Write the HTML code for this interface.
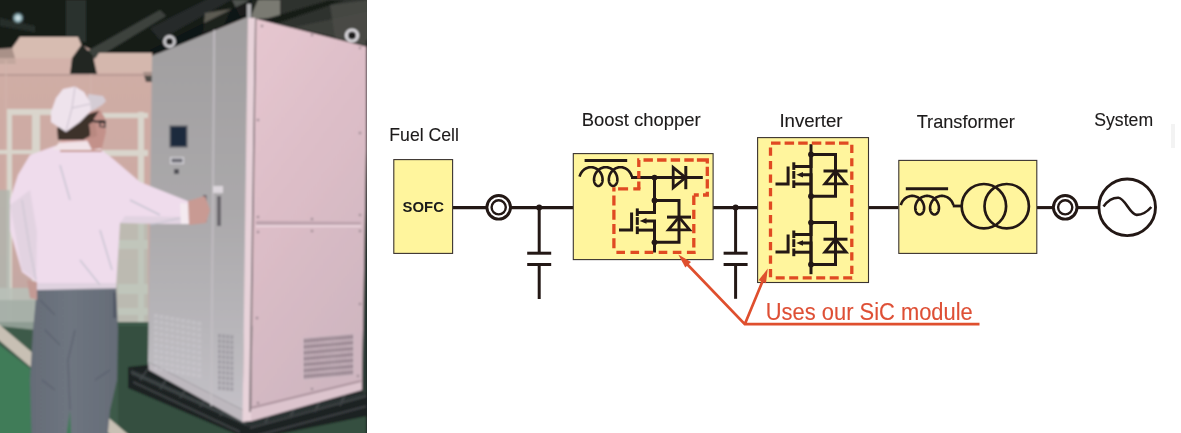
<!DOCTYPE html>
<html><head><meta charset="utf-8"><style>
html,body{margin:0;padding:0;background:#fff;width:1181px;height:433px;overflow:hidden}
svg{position:absolute;left:0;top:0;display:block;will-change:transform}
text{font-family:"Liberation Sans",sans-serif}
</style></head><body>
<svg width="1181" height="433" viewBox="0 0 1181 433">
<defs>
<clipPath id="pc"><rect x="0" y="0" width="367" height="433"/></clipPath>
<filter id="bl" x="-5%" y="-5%" width="110%" height="110%"><feGaussianBlur stdDeviation="0.8"/></filter>
<filter id="bl3" x="-20%" y="-20%" width="140%" height="140%"><feGaussianBlur stdDeviation="2.5"/></filter>
<linearGradient id="wall" x1="0" y1="0" x2="0" y2="1">
<stop offset="0" stop-color="#d2afa6"/><stop offset="0.55" stop-color="#cba9a3"/><stop offset="1" stop-color="#aca7a3"/>
</linearGradient>
<linearGradient id="lface" x1="0" y1="0" x2="0" y2="1">
<stop offset="0" stop-color="#a09e9f"/><stop offset="0.5" stop-color="#aba9ab"/><stop offset="0.8" stop-color="#b8b6ba"/><stop offset="1" stop-color="#c3c0c6"/>
</linearGradient>
<linearGradient id="rface" x1="0" y1="0" x2="0.4" y2="1">
<stop offset="0" stop-color="#e6c7d0"/><stop offset="0.5" stop-color="#dcbdc7"/><stop offset="1" stop-color="#cfb6c0"/>
</linearGradient>
<linearGradient id="pants" x1="0" y1="0" x2="1" y2="0">
<stop offset="0" stop-color="#656c77"/><stop offset="0.45" stop-color="#6e7580"/><stop offset="1" stop-color="#656c77"/>
</linearGradient>
<radialGradient id="lamp"><stop offset="0" stop-color="#e8f4f6"/><stop offset="0.5" stop-color="#8fb0b8"/><stop offset="1" stop-color="#1a1f1d" stop-opacity="0"/></radialGradient>
</defs>
<g clip-path="url(#pc)">
<g filter="url(#bl)">
<rect x="-20" y="-20" width="407" height="473" fill="url(#wall)"/>
<!-- ceiling -->
<path fill="#161b19" d="M-20,-20 H387 V52 L256,19 L248,17 L152,56 L97,53 L80,44 L78,37 L20,37 L12,50 L-20,52 Z"/>
<path fill="#2c3233" d="M150,28 L215,-5 L240,-5 L160,40 Z" opacity="0.7"/>
<path fill="#4a4c47" d="M262,-20 H387 V50 L330,36 L262,20 Z" opacity="0.75"/>
<path fill="#2a2e2b" d="M262,0 L367,-10 V12 L280,30 Z" opacity="0.8"/>
<path fill="#5d5c53" d="M205,13 L231,9 L224,25 L203,33 Z"/>
<path fill="#7a7a72" d="M252,0 H280 V17 L256,19 L252,17 Z"/>
<path fill="#141a15" d="M262,20 L330,0 H345 L275,24 Z" opacity="0.85"/>
<path fill="#4b4d48" d="M330,5 L367,0 V46 L335,38 Z" opacity="0.8"/>
<path fill="#6a6a66" d="M232,0 H250 V14 L240,16 Z" opacity="0.7"/>
<path fill="#0e1210" d="M150,50 L250,0 L258,0 L252,14 L160,54 Z" opacity="0.8"/>
<path fill="#2b302d" d="M66,0 H86 V42 H66 Z"/>
<path fill="#3c423c" d="M75,58 L160,10 L166,16 L84,66 Z"/>
<path fill="#303630" d="M0,18 L35,26 L35,32 L0,26 Z" opacity="0.7"/>
<circle cx="18" cy="18" r="7" fill="url(#lamp)"/>
<!-- slabs -->
<path fill="#d7bcb1" d="M20,37 H78 L81,44 V58 H15 L12,48 Z"/>
<path fill="#a99188" d="M-20,50 L12,48 L15,58 L16,64 H-20 Z"/>
<path fill="#d3b8ad" d="M99,53 H152 V72 H96 L93,62 Z"/>
<path fill="#2f332e" d="M143,72 H152 V82 H146 Z" opacity="0.8"/>
<rect x="-20" y="58" width="172" height="16" fill="#d6b6ad" opacity="0.6"/>
<rect x="-20" y="74" width="172" height="1.6" fill="#b39790"/>
<path fill="#232823" d="M72,58 L82,44 L93,56 L97,74 H70 Z"/>
<rect x="5" y="60" width="2" height="130" fill="#d2b4ab" opacity="0.6"/>
<rect x="90" y="74" width="2" height="40" fill="#d2b4ab" opacity="0.5"/>
<!-- shelves -->
<g fill="#dcddd3" opacity="0.85">
<rect x="7" y="109" width="45" height="6"/>
<rect x="7" y="112" width="5" height="215"/>
<rect x="32" y="112" width="8" height="220"/>
<rect x="-20" y="150" width="52" height="4"/>
<rect x="98" y="113" width="50" height="5"/>
<rect x="138" y="112" width="6" height="210"/>
<rect x="98" y="150" width="50" height="6"/>
<rect x="118" y="240" width="30" height="9"/>
<rect x="118" y="284" width="30" height="10"/>
<rect x="118" y="308" width="30" height="7"/>
</g>
<path fill="#adb6ad" d="M-20,190 H10 V325 H-20 Z" opacity="0.75"/>
<path fill="#b8c0b6" d="M116,190 H148 V325 H116 Z" opacity="0.75"/>
<path fill="#b9c1b8" d="M-20,288 H36 V325 H-20 Z" opacity="0.85"/>
<!-- floor -->
<path fill="#3e5a4a" d="M-20,322 H150 V453 H-20 Z"/>
<path fill="#34503f" d="M118,326 H387 V453 H118 Z"/>
<path fill="#a3ada5" d="M-20,300 L36,300 L36,330 L-20,324 Z" opacity="0.8"/>
<!-- green stripe + white line -->
<path fill="#3f7b58" d="M-20,330 L140,453 H-20 Z"/>
<path fill="#c8c0b4" d="M-20,308 L150,453 H132 L-20,324 Z"/>
<!-- pallet -->
<path fill="#1c2021" d="M128,367 L155,364 L387,378 V412 L250,440 L128,388 Z"/>
<path fill="#3a3f41" d="M131,369 L248,421 L367,391 V396 L248,427 L131,375 Z" opacity="0.55"/>
<g stroke="#4a5052" stroke-width="2" opacity="0.7" fill="none">
<path d="M140,380 L150,366 M160,389 L170,374 M180,398 L190,383 M200,407 L210,392 M220,416 L230,401 M265,424 L270,412 M290,418 L295,406 M315,412 L320,400 M340,406 L345,394"/>
<path d="M131,372 L246,424 M133,382 L240,432 M250,428 L367,396 M255,436 L367,406"/>
</g>
<!-- cabinet left gray face -->
<path fill="url(#lface)" d="M152,56 L248,17 L243,410 L148,362 Z"/>
<path fill="#bdb8be" d="M148,362 L243,410 L243,422 L149,370 Z"/>
<path fill="#c4c0c5" d="M213.5,30 L215,30 L212,406 L210.5,406 Z"/>
<!-- corner strip -->
<path fill="#e8d3da" d="M248,17 L255,18 L251,421 L242.5,422 Z"/>
<path fill="#86797f" d="M255,18 L256.8,19 L251,412 L249,412 Z"/>
<!-- right face -->
<path fill="url(#rface)" d="M256.5,19 L367,47 L366,150 L362,390 L251,421 Z"/>
<path fill="#2f3d37" d="M366,46 L387,46 V400 L362,392 L362,390 L366,150 Z"/>
<rect x="366" y="40" width="20" height="400" fill="#1f2422"/>
<path fill="#bda3ad" d="M256,221 L361,222 V225 H256 Z"/>
<path fill="#ecd6de" d="M256,225 L361,225 V227 H256 Z"/>
<path fill="#dcc4cd" d="M251,408 L361,381 V390 L251,421 Z"/>
<path fill="#a8909a" d="M251,407 L361,380 V382 L251,409 Z"/>
<!-- screws -->
<g fill="#9c8a92">
<circle cx="262" cy="26" r="1.3"/><circle cx="312" cy="35" r="1.3"/><circle cx="360" cy="48" r="1.3"/>
<circle cx="258" cy="120" r="1.3"/><circle cx="360" cy="133" r="1.3"/>
<circle cx="258" cy="217" r="1.3"/><circle cx="312" cy="219" r="1.3"/><circle cx="360" cy="215" r="1.3"/>
<circle cx="258" cy="232" r="1.3"/><circle cx="312" cy="231" r="1.3"/><circle cx="360" cy="231" r="1.3"/>
<circle cx="257" cy="318" r="1.3"/><circle cx="360" cy="304" r="1.3"/><circle cx="312" cy="389" r="1.3"/>
<circle cx="258" cy="403" r="1.3"/><circle cx="358" cy="376" r="1.3"/>
</g>
<!-- eye bolts -->
<circle cx="169.5" cy="41.5" r="5" fill="#1a1d1b" stroke="#cfcdd2" stroke-width="2.8"/>
<circle cx="352" cy="35.5" r="5.6" fill="#1a1d1b" stroke="#dedbe0" stroke-width="3"/>
<rect x="247" y="4" width="4" height="14" fill="#b2b1b4"/>
<!-- display, buttons, handles -->
<rect x="169" y="125" width="19" height="23" fill="#7c7b80"/>
<rect x="170.5" y="126.5" width="16" height="20" fill="#1f2a3d"/>
<rect x="170" y="157" width="14" height="7" fill="#d2d0d6"/>
<rect x="171.5" y="158.5" width="11" height="4" fill="#6c6b72"/>
<rect x="174" y="169" width="5" height="5" fill="#505056"/>
<rect x="203" y="195" width="3.5" height="27" fill="#58575e"/>
<rect x="213" y="186" width="10" height="7" fill="#dcd6dc"/>
<rect x="217" y="196" width="4" height="30" fill="#67656c"/>
<!-- vents -->
<g fill="#d6d3da" opacity="0.35"><rect x="154.0" y="314.0" width="4" height="3.6"/><rect x="159.4" y="315.0" width="4" height="3.6"/><rect x="164.8" y="315.9" width="4" height="3.6"/><rect x="170.2" y="316.9" width="4" height="3.6"/><rect x="175.6" y="317.9" width="4" height="3.6"/><rect x="181.0" y="318.9" width="4" height="3.6"/><rect x="186.4" y="319.8" width="4" height="3.6"/><rect x="191.8" y="320.8" width="4" height="3.6"/><rect x="197.2" y="321.8" width="4" height="3.6"/><rect x="154.0" y="319.8" width="4" height="3.6"/><rect x="159.4" y="320.8" width="4" height="3.6"/><rect x="164.8" y="321.7" width="4" height="3.6"/><rect x="170.2" y="322.7" width="4" height="3.6"/><rect x="175.6" y="323.7" width="4" height="3.6"/><rect x="181.0" y="324.7" width="4" height="3.6"/><rect x="186.4" y="325.6" width="4" height="3.6"/><rect x="191.8" y="326.6" width="4" height="3.6"/><rect x="197.2" y="327.6" width="4" height="3.6"/><rect x="154.0" y="325.6" width="4" height="3.6"/><rect x="159.4" y="326.6" width="4" height="3.6"/><rect x="164.8" y="327.5" width="4" height="3.6"/><rect x="170.2" y="328.5" width="4" height="3.6"/><rect x="175.6" y="329.5" width="4" height="3.6"/><rect x="181.0" y="330.5" width="4" height="3.6"/><rect x="186.4" y="331.4" width="4" height="3.6"/><rect x="191.8" y="332.4" width="4" height="3.6"/><rect x="197.2" y="333.4" width="4" height="3.6"/><rect x="154.0" y="331.4" width="4" height="3.6"/><rect x="159.4" y="332.4" width="4" height="3.6"/><rect x="164.8" y="333.3" width="4" height="3.6"/><rect x="170.2" y="334.3" width="4" height="3.6"/><rect x="175.6" y="335.3" width="4" height="3.6"/><rect x="181.0" y="336.3" width="4" height="3.6"/><rect x="186.4" y="337.2" width="4" height="3.6"/><rect x="191.8" y="338.2" width="4" height="3.6"/><rect x="197.2" y="339.2" width="4" height="3.6"/><rect x="154.0" y="337.2" width="4" height="3.6"/><rect x="159.4" y="338.2" width="4" height="3.6"/><rect x="164.8" y="339.1" width="4" height="3.6"/><rect x="170.2" y="340.1" width="4" height="3.6"/><rect x="175.6" y="341.1" width="4" height="3.6"/><rect x="181.0" y="342.1" width="4" height="3.6"/><rect x="186.4" y="343.0" width="4" height="3.6"/><rect x="191.8" y="344.0" width="4" height="3.6"/><rect x="197.2" y="345.0" width="4" height="3.6"/><rect x="154.0" y="343.0" width="4" height="3.6"/><rect x="159.4" y="344.0" width="4" height="3.6"/><rect x="164.8" y="344.9" width="4" height="3.6"/><rect x="170.2" y="345.9" width="4" height="3.6"/><rect x="175.6" y="346.9" width="4" height="3.6"/><rect x="181.0" y="347.9" width="4" height="3.6"/><rect x="186.4" y="348.8" width="4" height="3.6"/><rect x="191.8" y="349.8" width="4" height="3.6"/><rect x="197.2" y="350.8" width="4" height="3.6"/><rect x="154.0" y="348.8" width="4" height="3.6"/><rect x="159.4" y="349.8" width="4" height="3.6"/><rect x="164.8" y="350.7" width="4" height="3.6"/><rect x="170.2" y="351.7" width="4" height="3.6"/><rect x="175.6" y="352.7" width="4" height="3.6"/><rect x="181.0" y="353.7" width="4" height="3.6"/><rect x="186.4" y="354.6" width="4" height="3.6"/><rect x="191.8" y="355.6" width="4" height="3.6"/><rect x="197.2" y="356.6" width="4" height="3.6"/><rect x="154.0" y="354.6" width="4" height="3.6"/><rect x="159.4" y="355.6" width="4" height="3.6"/><rect x="164.8" y="356.5" width="4" height="3.6"/><rect x="170.2" y="357.5" width="4" height="3.6"/><rect x="175.6" y="358.5" width="4" height="3.6"/><rect x="181.0" y="359.5" width="4" height="3.6"/><rect x="186.4" y="360.4" width="4" height="3.6"/><rect x="191.8" y="361.4" width="4" height="3.6"/><rect x="197.2" y="362.4" width="4" height="3.6"/><rect x="154.0" y="360.4" width="4" height="3.6"/><rect x="159.4" y="361.4" width="4" height="3.6"/><rect x="164.8" y="362.3" width="4" height="3.6"/><rect x="170.2" y="363.3" width="4" height="3.6"/><rect x="175.6" y="364.3" width="4" height="3.6"/><rect x="181.0" y="365.3" width="4" height="3.6"/><rect x="186.4" y="366.2" width="4" height="3.6"/><rect x="191.8" y="367.2" width="4" height="3.6"/><rect x="197.2" y="368.2" width="4" height="3.6"/><rect x="154.0" y="366.2" width="4" height="3.6"/><rect x="159.4" y="367.2" width="4" height="3.6"/><rect x="164.8" y="368.1" width="4" height="3.6"/><rect x="170.2" y="369.1" width="4" height="3.6"/><rect x="175.6" y="370.1" width="4" height="3.6"/><rect x="181.0" y="371.1" width="4" height="3.6"/><rect x="186.4" y="372.0" width="4" height="3.6"/><rect x="191.8" y="373.0" width="4" height="3.6"/><rect x="197.2" y="374.0" width="4" height="3.6"/></g>
<g fill="#8f8c94" opacity="0.6"><rect x="218.0" y="334.0" width="3" height="3.8"/><rect x="222.1" y="334.4" width="3" height="3.8"/><rect x="226.2" y="334.8" width="3" height="3.8"/><rect x="230.3" y="335.2" width="3" height="3.8"/><rect x="218.0" y="339.2" width="3" height="3.8"/><rect x="222.1" y="339.6" width="3" height="3.8"/><rect x="226.2" y="340.0" width="3" height="3.8"/><rect x="230.3" y="340.4" width="3" height="3.8"/><rect x="218.0" y="344.4" width="3" height="3.8"/><rect x="222.1" y="344.8" width="3" height="3.8"/><rect x="226.2" y="345.2" width="3" height="3.8"/><rect x="230.3" y="345.6" width="3" height="3.8"/><rect x="218.0" y="349.6" width="3" height="3.8"/><rect x="222.1" y="350.0" width="3" height="3.8"/><rect x="226.2" y="350.4" width="3" height="3.8"/><rect x="230.3" y="350.8" width="3" height="3.8"/><rect x="218.0" y="354.8" width="3" height="3.8"/><rect x="222.1" y="355.2" width="3" height="3.8"/><rect x="226.2" y="355.6" width="3" height="3.8"/><rect x="230.3" y="356.0" width="3" height="3.8"/><rect x="218.0" y="360.0" width="3" height="3.8"/><rect x="222.1" y="360.4" width="3" height="3.8"/><rect x="226.2" y="360.8" width="3" height="3.8"/><rect x="230.3" y="361.2" width="3" height="3.8"/><rect x="218.0" y="365.2" width="3" height="3.8"/><rect x="222.1" y="365.6" width="3" height="3.8"/><rect x="226.2" y="366.0" width="3" height="3.8"/><rect x="230.3" y="366.4" width="3" height="3.8"/><rect x="218.0" y="370.4" width="3" height="3.8"/><rect x="222.1" y="370.8" width="3" height="3.8"/><rect x="226.2" y="371.2" width="3" height="3.8"/><rect x="230.3" y="371.6" width="3" height="3.8"/><rect x="218.0" y="375.6" width="3" height="3.8"/><rect x="222.1" y="376.0" width="3" height="3.8"/><rect x="226.2" y="376.4" width="3" height="3.8"/><rect x="230.3" y="376.8" width="3" height="3.8"/><rect x="218.0" y="380.8" width="3" height="3.8"/><rect x="222.1" y="381.2" width="3" height="3.8"/><rect x="226.2" y="381.6" width="3" height="3.8"/><rect x="230.3" y="382.0" width="3" height="3.8"/><rect x="218.0" y="386.0" width="3" height="3.8"/><rect x="222.1" y="386.4" width="3" height="3.8"/><rect x="226.2" y="386.8" width="3" height="3.8"/><rect x="230.3" y="387.2" width="3" height="3.8"/></g>
<g transform="translate(303,338) skewY(-5)">
<rect x="0" y="0" width="51" height="42" fill="#cdb9c2"/>
<g fill="#8d7a85">
<rect x="1.0" y="1.0" width="2.2" height="4.3"/>
<rect x="4.1" y="1.0" width="2.2" height="4.3"/>
<rect x="7.2" y="1.0" width="2.2" height="4.3"/>
<rect x="10.3" y="1.0" width="2.2" height="4.3"/>
<rect x="13.4" y="1.0" width="2.2" height="4.3"/>
<rect x="16.5" y="1.0" width="2.2" height="4.3"/>
<rect x="19.6" y="1.0" width="2.2" height="4.3"/>
<rect x="22.7" y="1.0" width="2.2" height="4.3"/>
<rect x="25.8" y="1.0" width="2.2" height="4.3"/>
<rect x="28.9" y="1.0" width="2.2" height="4.3"/>
<rect x="32.0" y="1.0" width="2.2" height="4.3"/>
<rect x="35.1" y="1.0" width="2.2" height="4.3"/>
<rect x="38.2" y="1.0" width="2.2" height="4.3"/>
<rect x="41.3" y="1.0" width="2.2" height="4.3"/>
<rect x="44.4" y="1.0" width="2.2" height="4.3"/>
<rect x="47.5" y="1.0" width="2.2" height="4.3"/>
<rect x="1.0" y="6.9" width="2.2" height="4.3"/>
<rect x="4.1" y="6.9" width="2.2" height="4.3"/>
<rect x="7.2" y="6.9" width="2.2" height="4.3"/>
<rect x="10.3" y="6.9" width="2.2" height="4.3"/>
<rect x="13.4" y="6.9" width="2.2" height="4.3"/>
<rect x="16.5" y="6.9" width="2.2" height="4.3"/>
<rect x="19.6" y="6.9" width="2.2" height="4.3"/>
<rect x="22.7" y="6.9" width="2.2" height="4.3"/>
<rect x="25.8" y="6.9" width="2.2" height="4.3"/>
<rect x="28.9" y="6.9" width="2.2" height="4.3"/>
<rect x="32.0" y="6.9" width="2.2" height="4.3"/>
<rect x="35.1" y="6.9" width="2.2" height="4.3"/>
<rect x="38.2" y="6.9" width="2.2" height="4.3"/>
<rect x="41.3" y="6.9" width="2.2" height="4.3"/>
<rect x="44.4" y="6.9" width="2.2" height="4.3"/>
<rect x="47.5" y="6.9" width="2.2" height="4.3"/>
<rect x="1.0" y="12.8" width="2.2" height="4.3"/>
<rect x="4.1" y="12.8" width="2.2" height="4.3"/>
<rect x="7.2" y="12.8" width="2.2" height="4.3"/>
<rect x="10.3" y="12.8" width="2.2" height="4.3"/>
<rect x="13.4" y="12.8" width="2.2" height="4.3"/>
<rect x="16.5" y="12.8" width="2.2" height="4.3"/>
<rect x="19.6" y="12.8" width="2.2" height="4.3"/>
<rect x="22.7" y="12.8" width="2.2" height="4.3"/>
<rect x="25.8" y="12.8" width="2.2" height="4.3"/>
<rect x="28.9" y="12.8" width="2.2" height="4.3"/>
<rect x="32.0" y="12.8" width="2.2" height="4.3"/>
<rect x="35.1" y="12.8" width="2.2" height="4.3"/>
<rect x="38.2" y="12.8" width="2.2" height="4.3"/>
<rect x="41.3" y="12.8" width="2.2" height="4.3"/>
<rect x="44.4" y="12.8" width="2.2" height="4.3"/>
<rect x="47.5" y="12.8" width="2.2" height="4.3"/>
<rect x="1.0" y="18.7" width="2.2" height="4.3"/>
<rect x="4.1" y="18.7" width="2.2" height="4.3"/>
<rect x="7.2" y="18.7" width="2.2" height="4.3"/>
<rect x="10.3" y="18.7" width="2.2" height="4.3"/>
<rect x="13.4" y="18.7" width="2.2" height="4.3"/>
<rect x="16.5" y="18.7" width="2.2" height="4.3"/>
<rect x="19.6" y="18.7" width="2.2" height="4.3"/>
<rect x="22.7" y="18.7" width="2.2" height="4.3"/>
<rect x="25.8" y="18.7" width="2.2" height="4.3"/>
<rect x="28.9" y="18.7" width="2.2" height="4.3"/>
<rect x="32.0" y="18.7" width="2.2" height="4.3"/>
<rect x="35.1" y="18.7" width="2.2" height="4.3"/>
<rect x="38.2" y="18.7" width="2.2" height="4.3"/>
<rect x="41.3" y="18.7" width="2.2" height="4.3"/>
<rect x="44.4" y="18.7" width="2.2" height="4.3"/>
<rect x="47.5" y="18.7" width="2.2" height="4.3"/>
<rect x="1.0" y="24.6" width="2.2" height="4.3"/>
<rect x="4.1" y="24.6" width="2.2" height="4.3"/>
<rect x="7.2" y="24.6" width="2.2" height="4.3"/>
<rect x="10.3" y="24.6" width="2.2" height="4.3"/>
<rect x="13.4" y="24.6" width="2.2" height="4.3"/>
<rect x="16.5" y="24.6" width="2.2" height="4.3"/>
<rect x="19.6" y="24.6" width="2.2" height="4.3"/>
<rect x="22.7" y="24.6" width="2.2" height="4.3"/>
<rect x="25.8" y="24.6" width="2.2" height="4.3"/>
<rect x="28.9" y="24.6" width="2.2" height="4.3"/>
<rect x="32.0" y="24.6" width="2.2" height="4.3"/>
<rect x="35.1" y="24.6" width="2.2" height="4.3"/>
<rect x="38.2" y="24.6" width="2.2" height="4.3"/>
<rect x="41.3" y="24.6" width="2.2" height="4.3"/>
<rect x="44.4" y="24.6" width="2.2" height="4.3"/>
<rect x="47.5" y="24.6" width="2.2" height="4.3"/>
<rect x="1.0" y="30.5" width="2.2" height="4.3"/>
<rect x="4.1" y="30.5" width="2.2" height="4.3"/>
<rect x="7.2" y="30.5" width="2.2" height="4.3"/>
<rect x="10.3" y="30.5" width="2.2" height="4.3"/>
<rect x="13.4" y="30.5" width="2.2" height="4.3"/>
<rect x="16.5" y="30.5" width="2.2" height="4.3"/>
<rect x="19.6" y="30.5" width="2.2" height="4.3"/>
<rect x="22.7" y="30.5" width="2.2" height="4.3"/>
<rect x="25.8" y="30.5" width="2.2" height="4.3"/>
<rect x="28.9" y="30.5" width="2.2" height="4.3"/>
<rect x="32.0" y="30.5" width="2.2" height="4.3"/>
<rect x="35.1" y="30.5" width="2.2" height="4.3"/>
<rect x="38.2" y="30.5" width="2.2" height="4.3"/>
<rect x="41.3" y="30.5" width="2.2" height="4.3"/>
<rect x="44.4" y="30.5" width="2.2" height="4.3"/>
<rect x="47.5" y="30.5" width="2.2" height="4.3"/>
<rect x="1.0" y="36.4" width="2.2" height="4.3"/>
<rect x="4.1" y="36.4" width="2.2" height="4.3"/>
<rect x="7.2" y="36.4" width="2.2" height="4.3"/>
<rect x="10.3" y="36.4" width="2.2" height="4.3"/>
<rect x="13.4" y="36.4" width="2.2" height="4.3"/>
<rect x="16.5" y="36.4" width="2.2" height="4.3"/>
<rect x="19.6" y="36.4" width="2.2" height="4.3"/>
<rect x="22.7" y="36.4" width="2.2" height="4.3"/>
<rect x="25.8" y="36.4" width="2.2" height="4.3"/>
<rect x="28.9" y="36.4" width="2.2" height="4.3"/>
<rect x="32.0" y="36.4" width="2.2" height="4.3"/>
<rect x="35.1" y="36.4" width="2.2" height="4.3"/>
<rect x="38.2" y="36.4" width="2.2" height="4.3"/>
<rect x="41.3" y="36.4" width="2.2" height="4.3"/>
<rect x="44.4" y="36.4" width="2.2" height="4.3"/>
<rect x="47.5" y="36.4" width="2.2" height="4.3"/>
</g></g>
<!-- pants -->
<path fill="url(#pants)" d="M37,287 L116,286 L118,330 L117,380 L110,410 L106,453 H72 L70,410 L64,453 H32 L30,380 L33,330 Z"/>
<g fill="none" stroke="#4a5060" stroke-width="1.4" opacity="0.45">
<path d="M75,330 L68,360 L70,410"/>
<path d="M45,330 L60,345 M42,380 L55,390 M95,380 L110,370 M40,300 L55,315"/>
</g>
<path fill="#4c5260" d="M113,292 L116,292 L117,318 L113,318 Z" opacity="0.7"/>
<!-- jacket -->
<path fill="#efdcec" d="M55,146 L95,145 L112,158 L140,182 L190,202 L192,224 L170,224 L120,223 L116,288 L36,290 L36,282 L22,272 L10,230 L10,200 L18,175 L30,155 Z"/>
<g fill="none" stroke="#b9bcc8" stroke-width="1.5" opacity="0.7">
<path d="M22,200 L30,250 L36,280"/>
<path d="M60,165 L70,200 M100,230 L112,270 M130,200 L160,215 M150,225 L180,218 M80,260 L100,285"/>
</g>
<path fill="#d5cad6" d="M10,205 L22,270 L36,280 L37,232 L30,190 Z" opacity="0.5"/>
<path fill="#d3c9d6" d="M120,223 L192,224 L190,217 L125,216 Z" opacity="0.5"/>
<path fill="#f4eaf0" d="M180,203 L192,204 L193,224 L181,224 Z"/>
<path fill="#cfc8d2" d="M36,283 L116,283 L116,289 L36,290 Z" opacity="0.5"/>
<!-- hands -->
<path fill="#c89a93" d="M188,201 L205,196 L210,210 L206,223 L189,225 Z"/>
<path fill="#c39a94" d="M27,280 L37,282 L37,300 L30,298 Z"/>
<!-- neck -->
<path fill="#c79890" d="M62,136 L88,132 L100,140 L102,152 L60,152 Z"/>
<!-- collar -->
<path fill="#f1e3e8" d="M52,150 L60,142 L92,140 L102,150 Z"/>
<path fill="none" stroke="#d9a9a8" stroke-width="1.5" d="M60,142 L92,140"/>
<!-- head -->
<path fill="#c3918a" d="M88,112 L100,110 L105,118 L106,132 L102,148 L92,150 L86,138 Z"/>
<path fill="#3e302c" d="M57,128 L88,114 L99,111 L92,122 L90,136 L83,140 L58,140 Z"/>
<path fill="#b88880" d="M89,124 L95,122 L97,136 L91,138 Z"/>
<path fill="none" stroke="#252525" stroke-width="1.8" d="M92,121 L106,122.5"/>
<path fill="none" stroke="#303030" stroke-width="1.2" d="M100,120.5 L105,121 L105,127 L100,126.5 Z"/>
<!-- cap -->
<path fill="#d4ccd4" d="M88,94 L103,96 L106,101 L102,105 L92,111 L88,111 Z"/>
<path fill="#eee3ec" d="M51,112 L56,98 L63,89 L75,86.5 L84,92 L90,102 L91,111 L80,122 L66,132 L51,122 Z"/>
<path fill="none" stroke="#c9c0cc" stroke-width="1" d="M75,87 L72,108 L66,131 M72,108 L90,104"/>
</g>
</g>

<line x1="452.5" y1="207.6" x2="486.5" y2="207.6" stroke="#231815" stroke-width="3.1"/>
<line x1="511" y1="207.6" x2="573.5" y2="207.6" stroke="#231815" stroke-width="3.1"/>
<line x1="713" y1="207.6" x2="757.5" y2="207.6" stroke="#231815" stroke-width="3.1"/>
<line x1="868.5" y1="207.6" x2="898.5" y2="207.6" stroke="#231815" stroke-width="3.1"/>
<line x1="1037" y1="207.6" x2="1053" y2="207.6" stroke="#231815" stroke-width="3.1"/>
<line x1="1077.5" y1="207.6" x2="1098" y2="207.6" stroke="#231815" stroke-width="3.1"/>
<rect x="393.8" y="159.6" width="58.8" height="93.8" fill="#fff59d" stroke="#3a3330" stroke-width="1.1"/>
<rect x="573.3" y="153.6" width="139.8" height="106" fill="#fff59d" stroke="#3a3330" stroke-width="1.1"/>
<rect x="757.6" y="137.6" width="110.9" height="144.9" fill="#fff59d" stroke="#3a3330" stroke-width="1.1"/>
<rect x="898.8" y="160.4" width="138" height="93" fill="#fff59d" stroke="#3a3330" stroke-width="1.1"/>
<circle cx="498.7" cy="207.3" r="11.8" fill="#fff" stroke="#231815" stroke-width="2.9"/><circle cx="498.7" cy="207.3" r="7.1" fill="none" stroke="#231815" stroke-width="2.4"/>
<circle cx="1065.2" cy="207.3" r="11.8" fill="#fff" stroke="#231815" stroke-width="2.9"/><circle cx="1065.2" cy="207.3" r="7.1" fill="none" stroke="#231815" stroke-width="2.4"/>
<line x1="539.2" y1="207.6" x2="539.2" y2="253" stroke="#231815" stroke-width="3"/><line x1="539.2" y1="264.5" x2="539.2" y2="299" stroke="#231815" stroke-width="3"/><line x1="527.2" y1="253.2" x2="551.2" y2="253.2" stroke="#231815" stroke-width="3"/><line x1="527.2" y1="264.5" x2="551.2" y2="264.5" stroke="#231815" stroke-width="3"/><circle cx="539.2" cy="207.6" r="3" fill="#231815"/>
<line x1="735.6" y1="207.6" x2="735.6" y2="253" stroke="#231815" stroke-width="3"/><line x1="735.6" y1="264.5" x2="735.6" y2="298.8" stroke="#231815" stroke-width="3"/><line x1="723.6" y1="253.2" x2="747.6" y2="253.2" stroke="#231815" stroke-width="3"/><line x1="723.6" y1="264.5" x2="747.6" y2="264.5" stroke="#231815" stroke-width="3"/><circle cx="735.6" cy="207.6" r="3" fill="#231815"/>
<line x1="584.6" y1="160.5" x2="627.2" y2="160.5" stroke="#231815" stroke-width="3"/>
<polyline fill="none" stroke="#231815" stroke-width="2.6" points="579.60,176.60 579.77,175.99 579.97,175.37 580.21,174.77 580.48,174.17 580.77,173.58 581.10,173.00 581.46,172.44 581.85,171.90 582.27,171.38 582.71,170.88 583.18,170.40 583.68,169.95 584.19,169.53 584.73,169.14 585.29,168.78 585.87,168.46 586.46,168.17 587.07,167.92 587.69,167.70 588.32,167.52 588.95,167.38 589.60,167.28 590.25,167.22 590.90,167.20 591.55,167.22 592.20,167.28 592.85,167.38 593.48,167.52 594.11,167.70 594.73,167.92 595.34,168.17 595.93,168.46 596.51,168.78 597.07,169.14 597.61,169.53 598.12,169.95 598.62,170.40 599.09,170.88 599.53,171.38 599.95,171.90 600.34,172.44 600.70,173.00 601.03,173.58 601.32,174.17 601.59,174.77 601.83,175.37 602.03,175.99 602.20,176.60 602.34,177.21 602.44,177.83 602.52,178.43 602.56,179.03 602.57,179.62 602.55,180.20 602.50,180.76 602.42,181.30 602.31,181.82 602.17,182.32 602.01,182.80 601.82,183.25 601.62,183.67 601.38,184.06 601.13,184.42 600.87,184.74 600.58,185.03 600.28,185.28 599.97,185.50 599.65,185.68 599.32,185.82 598.98,185.92 598.64,185.98 598.30,186.00 597.96,185.98 597.62,185.92 597.28,185.82 596.95,185.68 596.63,185.50 596.32,185.28 596.02,185.03 595.73,184.74 595.47,184.42 595.22,184.06 594.98,183.67 594.78,183.25 594.59,182.80 594.43,182.32 594.29,181.82 594.18,181.30 594.10,180.76 594.05,180.20 594.03,179.62 594.04,179.03 594.08,178.43 594.16,177.83 594.26,177.21 594.40,176.60 594.57,175.99 594.77,175.37 595.01,174.77 595.28,174.17 595.57,173.58 595.90,173.00 596.26,172.44 596.65,171.90 597.07,171.38 597.51,170.88 597.98,170.40 598.48,169.95 598.99,169.53 599.53,169.14 600.09,168.78 600.67,168.46 601.26,168.17 601.87,167.92 602.49,167.70 603.12,167.52 603.75,167.38 604.40,167.28 605.05,167.22 605.70,167.20 606.35,167.22 607.00,167.28 607.65,167.38 608.28,167.52 608.91,167.70 609.53,167.92 610.14,168.17 610.73,168.46 611.31,168.78 611.87,169.14 612.41,169.53 612.92,169.95 613.42,170.40 613.89,170.88 614.33,171.38 614.75,171.90 615.14,172.44 615.50,173.00 615.83,173.58 616.12,174.17 616.39,174.77 616.63,175.37 616.83,175.99 617.00,176.60 617.14,177.21 617.24,177.83 617.32,178.43 617.36,179.03 617.37,179.62 617.35,180.20 617.30,180.76 617.22,181.30 617.11,181.82 616.97,182.32 616.81,182.80 616.62,183.25 616.42,183.67 616.18,184.06 615.93,184.42 615.67,184.74 615.38,185.03 615.08,185.28 614.77,185.50 614.45,185.68 614.12,185.82 613.78,185.92 613.44,185.98 613.10,186.00 612.76,185.98 612.42,185.92 612.08,185.82 611.75,185.68 611.43,185.50 611.12,185.28 610.82,185.03 610.53,184.74 610.27,184.42 610.02,184.06 609.78,183.67 609.58,183.25 609.39,182.80 609.23,182.32 609.09,181.82 608.98,181.30 608.90,180.76 608.85,180.20 608.83,179.62 608.84,179.03 608.88,178.43 608.96,177.83 609.06,177.21 609.20,176.60 609.37,175.99 609.57,175.37 609.81,174.77 610.08,174.17 610.37,173.58 610.70,173.00 611.06,172.44 611.45,171.90 611.87,171.38 612.31,170.88 612.78,170.40 613.28,169.95 613.79,169.53 614.33,169.14 614.89,168.78 615.47,168.46 616.06,168.17 616.67,167.92 617.29,167.70 617.92,167.52 618.55,167.38 619.20,167.28 619.85,167.22 620.50,167.20 621.15,167.22 621.80,167.28 622.45,167.38 623.08,167.52 623.71,167.70 624.33,167.92 624.94,168.17 625.53,168.46 626.11,168.78 626.67,169.14 627.21,169.53 627.72,169.95 628.22,170.40 628.69,170.88 629.13,171.38 629.55,171.90 629.94,172.44 630.30,173.00 630.63,173.58 630.92,174.17 631.19,174.77 631.43,175.37 631.63,175.99 631.80,176.60"/>
<line x1="631" y1="177.6" x2="702.8" y2="177.6" stroke="#231815" stroke-width="3"/>
<circle cx="654.5" cy="177.6" r="2.9" fill="#231815"/>
<line x1="654.5" y1="177.6" x2="654.5" y2="200.5" stroke="#231815" stroke-width="3"/>
<line x1="654.5" y1="242" x2="654.5" y2="252.5" stroke="#231815" stroke-width="3"/>
<path stroke="#231815" stroke-width="2.8" fill="none" d="M685.6,177.6 L673.2,167.5 V187.7 Z"/>
<line x1="685.8" y1="166" x2="685.8" y2="189.2" stroke="#231815" stroke-width="3"/>
<path stroke="#231815" stroke-width="3" fill="none" d="M654.5,200.5 V212.5 H637.0"/>
<line x1="637.3" y1="208.4" x2="637.3" y2="216.0" stroke="#231815" stroke-width="3"/>
<line x1="637.3" y1="217.1" x2="637.3" y2="224.9" stroke="#231815" stroke-width="3"/>
<line x1="637.3" y1="226.4" x2="637.3" y2="234.1" stroke="#231815" stroke-width="3"/>
<path stroke="#231815" stroke-width="3" fill="none" d="M631.6,212.5 V230.0 H619.0"/>
<line x1="637.3" y1="230.1" x2="654.5" y2="230.1" stroke="#231815" stroke-width="3"/>
<path stroke="#231815" stroke-width="3" fill="none" d="M644.5,220.9 H654.5 V242.3"/>
<path fill="#231815" d="M639.7,220.9 L646.5,218.1 L646.5,223.7 Z"/>
<path stroke="#231815" stroke-width="3" fill="none" d="M654.5,200.5 H679.0 V242.3 H654.5"/>
<line x1="667.0" y1="217.1" x2="691.0" y2="217.1" stroke="#231815" stroke-width="3"/>
<path stroke="#231815" stroke-width="2.8" fill="none" stroke-linejoin="miter" d="M679.0,217.1 L668.4,229.9 H689.6 Z"/>
<circle cx="654.5" cy="200.5" r="2.9" fill="#231815"/>
<circle cx="654.5" cy="242.3" r="2.9" fill="#231815"/>

<path fill="none" stroke="#e04a22" stroke-width="3.3" stroke-dasharray="7.5 4.2 9.4 4.2 9.4 4.2 9.4 4.2 9.4 3.2 14 3.2 9.3 3.2 9.3 3.2" d="M638.8,167 V160 H707.3 V195 H693.8"/>
<line x1="693.8" y1="195.5" x2="693.8" y2="254" stroke="#e04a22" stroke-width="3.3" stroke-dasharray="9.4 4.799999999999999"/>
<line x1="695.5" y1="252.4" x2="612.3" y2="252.4" stroke="#e04a22" stroke-width="3.3" stroke-dasharray="8.6 5.5"/>
<line x1="613.9" y1="248.2" x2="613.9" y2="187.3" stroke="#e04a22" stroke-width="3.3" stroke-dasharray="10 4.199999999999999"/>
<line x1="618.1" y1="188.9" x2="640.4" y2="188.9" stroke="#e04a22" stroke-width="3.3" stroke-dasharray="10 5.199999999999999"/>
<line x1="638.8" y1="188.9" x2="638.8" y2="169.8" stroke="#e04a22" stroke-width="3.3" stroke-dasharray="7.5 2.9000000000000004"/>
<line x1="811" y1="144.2" x2="811" y2="274.2" stroke="#231815" stroke-width="3"/>
<path stroke="#231815" stroke-width="3" fill="none" d="M811,154.4 V166.4 H793.5"/>
<line x1="793.8" y1="162.3" x2="793.8" y2="169.9" stroke="#231815" stroke-width="3"/>
<line x1="793.8" y1="171.0" x2="793.8" y2="178.8" stroke="#231815" stroke-width="3"/>
<line x1="793.8" y1="180.3" x2="793.8" y2="188.0" stroke="#231815" stroke-width="3"/>
<path stroke="#231815" stroke-width="3" fill="none" d="M788.1,166.4 V183.9 H775.5"/>
<line x1="793.8" y1="184.0" x2="811" y2="184.0" stroke="#231815" stroke-width="3"/>
<path stroke="#231815" stroke-width="3" fill="none" d="M801,174.8 H811 V196.2"/>
<path fill="#231815" d="M796.2,174.8 L803,172.0 L803,177.6 Z"/>
<path stroke="#231815" stroke-width="3" fill="none" d="M811,154.4 H835.5 V196.2 H811"/>
<line x1="823.5" y1="171.0" x2="847.5" y2="171.0" stroke="#231815" stroke-width="3"/>
<path stroke="#231815" stroke-width="2.8" fill="none" stroke-linejoin="miter" d="M835.5,171.0 L824.9,183.8 H846.1 Z"/>
<circle cx="811" cy="154.4" r="2.9" fill="#231815"/>
<circle cx="811" cy="196.2" r="2.9" fill="#231815"/>
<path stroke="#231815" stroke-width="3" fill="none" d="M811,222.6 V234.6 H793.5"/>
<line x1="793.8" y1="230.5" x2="793.8" y2="238.1" stroke="#231815" stroke-width="3"/>
<line x1="793.8" y1="239.2" x2="793.8" y2="247.0" stroke="#231815" stroke-width="3"/>
<line x1="793.8" y1="248.5" x2="793.8" y2="256.2" stroke="#231815" stroke-width="3"/>
<path stroke="#231815" stroke-width="3" fill="none" d="M788.1,234.6 V252.1 H775.5"/>
<line x1="793.8" y1="252.2" x2="811" y2="252.2" stroke="#231815" stroke-width="3"/>
<path stroke="#231815" stroke-width="3" fill="none" d="M801,243.0 H811 V264.4"/>
<path fill="#231815" d="M796.2,243.0 L803,240.2 L803,245.79999999999998 Z"/>
<path stroke="#231815" stroke-width="3" fill="none" d="M811,222.6 H835.5 V264.4 H811"/>
<line x1="823.5" y1="239.2" x2="847.5" y2="239.2" stroke="#231815" stroke-width="3"/>
<path stroke="#231815" stroke-width="2.8" fill="none" stroke-linejoin="miter" d="M835.5,239.2 L824.9,252.0 H846.1 Z"/>
<circle cx="811" cy="222.6" r="2.9" fill="#231815"/>
<circle cx="811" cy="264.4" r="2.9" fill="#231815"/>
<line x1="771" y1="143.1" x2="852" y2="143.1" stroke="#e04a22" stroke-width="3.3" stroke-dasharray="9.5 4.1"/>
<line x1="851.8" y1="144.7" x2="851.8" y2="279.5" stroke="#e04a22" stroke-width="3.3" stroke-dasharray="8.2 5.25"/>
<line x1="775.7" y1="277.9" x2="853.5" y2="277.9" stroke="#e04a22" stroke-width="3.3" stroke-dasharray="9 4.5"/>
<line x1="770.5" y1="147.5" x2="770.5" y2="279.5" stroke="#e04a22" stroke-width="3.3" stroke-dasharray="8.3 5.199999999999999"/>
<line x1="905.8" y1="188.8" x2="948.1" y2="188.8" stroke="#231815" stroke-width="3"/>
<polyline fill="none" stroke="#231815" stroke-width="2.6" points="900.80,205.20 900.97,204.59 901.18,203.99 901.41,203.39 901.68,202.79 901.98,202.21 902.32,201.64 902.68,201.09 903.08,200.55 903.50,200.03 903.95,199.54 904.43,199.07 904.93,198.62 905.46,198.21 906.01,197.82 906.58,197.47 907.17,197.15 907.77,196.86 908.39,196.61 909.02,196.39 909.66,196.22 910.32,196.08 910.97,195.98 911.64,195.92 912.30,195.90 912.96,195.92 913.63,195.98 914.28,196.08 914.94,196.22 915.58,196.39 916.21,196.61 916.83,196.86 917.43,197.15 918.02,197.47 918.59,197.82 919.14,198.21 919.67,198.62 920.17,199.07 920.65,199.54 921.10,200.03 921.52,200.55 921.92,201.09 922.28,201.64 922.62,202.21 922.92,202.79 923.19,203.39 923.42,203.99 923.63,204.59 923.80,205.20 923.94,205.81 924.04,206.41 924.11,207.01 924.15,207.61 924.16,208.19 924.13,208.76 924.07,209.31 923.99,209.85 923.87,210.37 923.73,210.86 923.56,211.33 923.37,211.78 923.15,212.19 922.91,212.58 922.65,212.93 922.37,213.25 922.07,213.54 921.76,213.79 921.44,214.01 921.10,214.18 920.76,214.32 920.41,214.42 920.06,214.48 919.70,214.50 919.34,214.48 918.99,214.42 918.64,214.32 918.30,214.18 917.96,214.01 917.64,213.79 917.33,213.54 917.03,213.25 916.75,212.93 916.49,212.58 916.25,212.19 916.03,211.78 915.84,211.33 915.67,210.86 915.53,210.37 915.41,209.85 915.33,209.31 915.27,208.76 915.24,208.19 915.25,207.61 915.29,207.01 915.36,206.41 915.46,205.81 915.60,205.20 915.77,204.59 915.98,203.99 916.21,203.39 916.48,202.79 916.78,202.21 917.12,201.64 917.48,201.09 917.88,200.55 918.30,200.03 918.75,199.54 919.23,199.07 919.73,198.62 920.26,198.21 920.81,197.82 921.38,197.47 921.97,197.15 922.57,196.86 923.19,196.61 923.82,196.39 924.46,196.22 925.12,196.08 925.77,195.98 926.44,195.92 927.10,195.90 927.76,195.92 928.43,195.98 929.08,196.08 929.74,196.22 930.38,196.39 931.01,196.61 931.63,196.86 932.23,197.15 932.82,197.47 933.39,197.82 933.94,198.21 934.47,198.62 934.97,199.07 935.45,199.54 935.90,200.03 936.32,200.55 936.72,201.09 937.08,201.64 937.42,202.21 937.72,202.79 937.99,203.39 938.22,203.99 938.43,204.59 938.60,205.20 938.74,205.81 938.84,206.41 938.91,207.01 938.95,207.61 938.96,208.19 938.93,208.76 938.87,209.31 938.79,209.85 938.67,210.37 938.53,210.86 938.36,211.33 938.17,211.78 937.95,212.19 937.71,212.58 937.45,212.93 937.17,213.25 936.87,213.54 936.56,213.79 936.24,214.01 935.90,214.18 935.56,214.32 935.21,214.42 934.86,214.48 934.50,214.50 934.14,214.48 933.79,214.42 933.44,214.32 933.10,214.18 932.76,214.01 932.44,213.79 932.13,213.54 931.83,213.25 931.55,212.93 931.29,212.58 931.05,212.19 930.83,211.78 930.64,211.33 930.47,210.86 930.33,210.37 930.21,209.85 930.13,209.31 930.07,208.76 930.04,208.19 930.05,207.61 930.09,207.01 930.16,206.41 930.26,205.81 930.40,205.20 930.57,204.59 930.78,203.99 931.01,203.39 931.28,202.79 931.58,202.21 931.92,201.64 932.28,201.09 932.68,200.55 933.10,200.03 933.55,199.54 934.03,199.07 934.53,198.62 935.06,198.21 935.61,197.82 936.18,197.47 936.77,197.15 937.37,196.86 937.99,196.61 938.62,196.39 939.26,196.22 939.92,196.08 940.57,195.98 941.24,195.92 941.90,195.90 942.56,195.92 943.23,195.98 943.88,196.08 944.54,196.22 945.18,196.39 945.81,196.61 946.43,196.86 947.03,197.15 947.62,197.47 948.19,197.82 948.74,198.21 949.27,198.62 949.77,199.07 950.25,199.54 950.70,200.03 951.12,200.55 951.52,201.09 951.88,201.64 952.22,202.21 952.52,202.79 952.79,203.39 953.02,203.99 953.23,204.59 953.40,205.20"/>
<line x1="952.8" y1="206" x2="961.5" y2="206" stroke="#231815" stroke-width="2.8"/>
<circle cx="983.9" cy="206.2" r="22.2" fill="none" stroke="#231815" stroke-width="2.7"/>
<circle cx="1006.7" cy="206.2" r="22.2" fill="none" stroke="#231815" stroke-width="2.7"/>
<circle cx="1127.2" cy="207.3" r="28.3" fill="#fff" stroke="#231815" stroke-width="2.9"/>
<path fill="none" stroke="#231815" stroke-width="2.6" d="M1103.5,206.5 C1109,199 1113.5,197.6 1118.5,197.8 C1125,198.2 1130,214.8 1136.6,214.9 C1142,215 1147,212 1151.3,207"/>
<path fill="none" stroke="#df4f2e" stroke-width="2.7" stroke-linejoin="miter" d="M979.5,324.2 H744.8 L686,263 M744.8,324.2 L763.5,279"/>
<path fill="#df4f2e" d="M678.3,254.6 L691,262.1 L685.3,267.5 Z"/>
<path fill="#df4f2e" d="M767.8,268.5 L766,283.2 L758.6,280.2 Z"/>
<text x="389.3" y="141" textLength="69.6" lengthAdjust="spacingAndGlyphs" font-family="Liberation Sans" font-size="19" font-weight="normal" fill="#1c1a1a" stroke="#1c1a1a" stroke-width="0.12">Fuel Cell</text>
<text x="581.8" y="126" textLength="118.8" lengthAdjust="spacingAndGlyphs" font-family="Liberation Sans" font-size="19" font-weight="normal" fill="#1c1a1a" stroke="#1c1a1a" stroke-width="0.12">Boost chopper</text>
<text x="779.4" y="127.4" textLength="63.2" lengthAdjust="spacingAndGlyphs" font-family="Liberation Sans" font-size="19" font-weight="normal" fill="#1c1a1a" stroke="#1c1a1a" stroke-width="0.12">Inverter</text>
<text x="916.7" y="128.2" textLength="98.2" lengthAdjust="spacingAndGlyphs" font-family="Liberation Sans" font-size="19" font-weight="normal" fill="#1c1a1a" stroke="#1c1a1a" stroke-width="0.12">Transformer</text>
<text x="1094.3" y="125.5" textLength="58.8" lengthAdjust="spacingAndGlyphs" font-family="Liberation Sans" font-size="19" font-weight="normal" fill="#1c1a1a" stroke="#1c1a1a" stroke-width="0.12">System</text>
<text x="402.6" y="212.3" textLength="41.3" lengthAdjust="spacingAndGlyphs" font-family="Liberation Sans" font-size="15.5" font-weight="bold" fill="#1a1a1a" stroke="#1a1a1a" stroke-width="0">SOFC</text>
<text x="765.8" y="320" textLength="207" lengthAdjust="spacingAndGlyphs" font-family="Liberation Sans" font-size="23" font-weight="normal" fill="#de4f35" stroke="#de4f35" stroke-width="0.12">Uses our SiC module</text>
<rect x="1171" y="124" width="4" height="24" fill="#f3f3f3"/>
</svg>
</body></html>
